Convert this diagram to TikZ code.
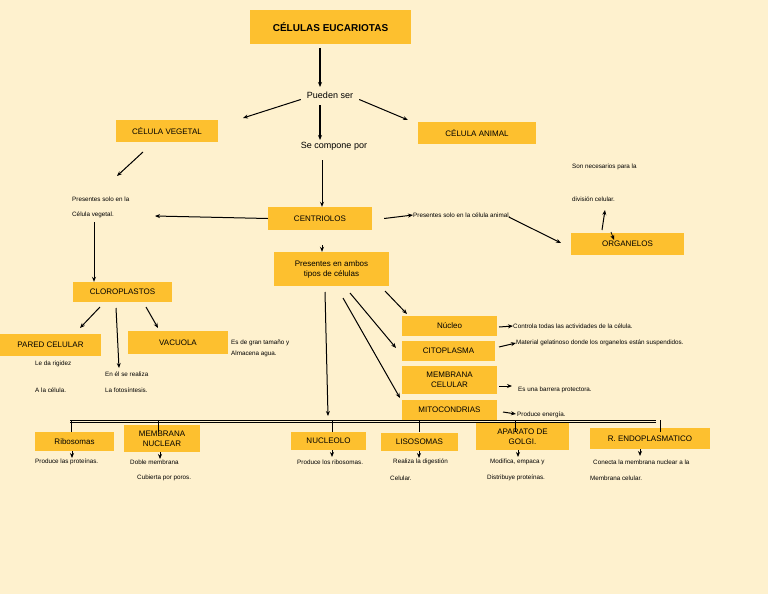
\documentclass[tikz,border=0pt]{standalone}
\usepackage{fontspec}
\setmainfont{Liberation Sans}
\usetikzlibrary{arrows.meta}
\definecolor{bg}{HTML}{FEF1CE}
\definecolor{bx}{HTML}{FDC02F}
\begin{document}
\begin{tikzpicture}[x=1pt,y=-1pt,
 box/.style={fill=bx,draw=none,inner sep=0pt,align=center,font=\fontsize{8}{10}\selectfont},
 sm/.style={inner sep=0pt,anchor=west,font=\fontsize{6.3}{7}\selectfont},
 ar/.style={-{Stealth[length=5pt,width=4pt]},line width=1pt},
 ln/.style={line width=1pt}]
\fill[bg] (0,0) rectangle (768,594);
\useasboundingbox (0,0) rectangle (768,594);
\newcommand{\bxx}[6]{\node[box,minimum width=#4-#2,minimum height=#5-#3] (#1) at ({(#2+#4)/2},{(#3+#5)/2}) {#6};}
\bxx{tit}{250}{10}{411}{44}{\fontsize{10}{12}\selectfont\bfseries CÉLULAS EUCARIOTAS}
\node[font=\fontsize{9}{11}\selectfont,inner sep=1pt] (pueden) at (330,95) {Pueden ser};
\node[font=\fontsize{9}{11}\selectfont,inner sep=1pt] (secomp) at (334,146) {Se compone por};
\bxx{veg}{116}{120}{218}{142}{CÉLULA VEGETAL}
\bxx{ani}{418}{122}{536}{144}{CÉLULA ANIMAL}
\bxx{cen}{268}{207}{372}{230}{CENTRIOLOS}
\bxx{amb}{274}{252}{389}{286}{Presentes en ambos\\tipos de células}
\bxx{org}{571}{233}{684}{255}{ORGANELOS}
\bxx{clo}{73}{282}{172}{302}{CLOROPLASTOS}
\bxx{par}{0}{334}{101}{356}{PARED CELULAR}
\bxx{vac}{128}{331}{228}{354}{VACUOLA}
\bxx{nuc}{402}{316}{497}{336}{Núcleo}
\bxx{cit}{402}{341}{495}{361}{CITOPLASMA}
\bxx{mem}{402}{366}{497}{394}{MEMBRANA\\CELULAR}
\bxx{mit}{402}{400}{497}{420}{MITOCONDRIAS}
\bxx{rib}{35}{432}{114}{451}{Ribosomas}
\bxx{mnu}{124}{425}{200}{452}{MEMBRANA\\NUCLEAR}
\bxx{nol}{291}{432}{366}{450}{NUCLEOLO}
\bxx{lis}{381}{433}{458}{451}{LISOSOMAS}
\bxx{gol}{476}{423}{569}{450}{APARATO DE\\GOLGI.}
\bxx{ret}{590}{428}{710}{449}{R. ENDOPLASMATICO}
% texts
\node[sm] (t1) at (572,167) {Son necesarios para la};
\node[sm] (t2) at (572,199) {división celular.};
\node[sm] (t3) at (72,199) {Presentes solo en la};
\node[sm] (t4) at (72,215) {Célula vegetal.};
\node[sm] (t5) at (413,215) {Presentes solo en la célula animal.};
\node[sm] (t6) at (231,343) {Es de gran tamaño y};
\node[sm] (t7) at (231,354) {Almacena agua.};
\node[sm] (t8) at (35,364) {Le da rigidez};
\node[sm] (t9) at (35,390) {A la célula.};
\node[sm] (t10) at (105,374) {En él se realiza};
\node[sm] (t11) at (105,390) {La fotosíntesis.};
\node[sm] (t12) at (513,326) {Controla todas las actividades de la célula.};
\node[sm] (t13) at (516,343) {Material gelatinoso donde los organelos están suspendidos.};
\node[sm] (t14) at (518,390) {Es una barrera protectora.};
\node[sm] (t15) at (517,415) {Produce energía.};
\node[sm] (b1) at (35,462) {Produce las proteínas.};
\node[sm] (b2) at (130,462) {Doble membrana};
\node[sm] (b3) at (137,478) {Cubierta por poros.};
\node[sm] (b4) at (297,462) {Produce los ribosomas.};
\node[sm] (b5) at (393,462) {Realiza la digestión};
\node[sm] (b6) at (390,478) {Celular.};
\node[sm] (b7) at (490,462) {Modifica, empaca y};
\node[sm] (b8) at (487,478) {Distribuye proteínas.};
\node[sm] (b9) at (593,462) {Conecta la membrana nuclear a la};
\node[sm] (b10) at (590,478) {Membrana celular.};
% arrows
\draw[ar,line width=1.5pt] (320,48) -- (320,87);
\draw[ar] (pueden.south west) ++(-5,0) -- (243,118);
\draw[ar] (pueden.south east) ++(5,0) -- (408,120);
\draw[ar,line width=1.5pt] (320,105) -- (320,140);
\draw[ar] (143,152) -- (117,176);
\draw[ar] (322,160) -- (cen.north -| 322,0);
\draw[ar] (cen.west) -- (155,216);
\draw[ar] (cen.east) ++(12,0) -- (t5.west);
\draw[ar] (t5.east) ++(-2,2) -- (561,243);
\draw[ar] (602,230) -- (605,210);
\draw[ar,line width=0.7pt] (611,232) -- (614,240);
\draw[ar,line width=0.7pt] (322,245) -- (amb.north -| 322,0);
\draw[ar] (94,222) -- (clo.north -| 94,0);
\draw[ar] (100,307) -- (80,328);
\draw[ar] (116,308) -- (119,368);
\draw[ar] (146,307) -- (158,328);
\draw[ar] (385,291) -- (407,314);
\draw[ar] (350,293) -- (396,348);
\draw[ar] (343,298) -- (400,398);
\draw[ar] (325,292) -- (328,416);
\draw[ar] (499,327) -- (t12.west);
\draw[ar] (499,347) -- (t13.west);
\draw[ar] (499,386) -- (512,386);
\draw[ar] (503,412) -- (516,414);
% bus
\draw[ln] (70,420) -- (656,420);
\draw[line width=0.6pt] (70,422) -- (656,422);
\foreach \x in {71,158,332,419,515,660}
  \draw[ln] (\x,420) -- (\x,432);
\foreach \x/\y in {72/451,160/452,332/450,419/451,518/450,640/449}
  \draw[ar,line width=0.8pt] (\x,\y) -- (\x,\y+7);
\end{tikzpicture}
\end{document}
